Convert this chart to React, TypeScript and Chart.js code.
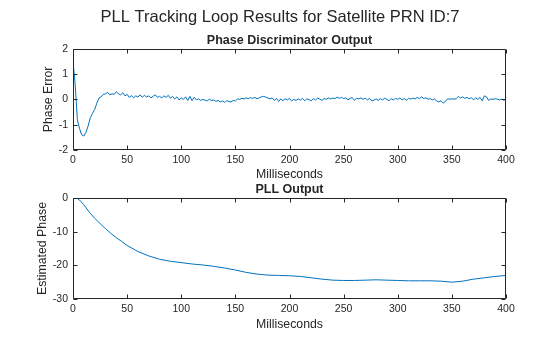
import React, { useEffect, useRef } from "react";
import { Chart, registerables } from "chart.js";

Chart.register(...registerables);

const mainTitle = "PLL Tracking Loop Results for Satellite PRN ID:7";
const topTitle = "Phase Discriminator Output";
const bottomTitle = "PLL Output";
const xLabel = "Milliseconds";
const topYLabel = "Phase Error";
const bottomYLabel = "Estimated Phase";

// Phase discriminator output, sampled every 2 ms from 0 to 400 ms
const phaseError = [
  1.5, 0.6, -0.8, -1.15, -1.4, -1.45, -1.3, -1.05, -0.72, -0.55,
  -0.4, -0.15, 0.05, 0.1, 0.2, 0.22, 0.28, 0.18, 0.22, 0.2,
  0.3, 0.22, 0.18, 0.26, 0.14, 0.2, 0.08, 0.15, 0.06, 0.14,
  0.1, 0.18, 0.08, 0.16, 0.1, 0.14, 0.06, 0.12, 0.18, 0.08,
  0.12, 0.06, 0.14, 0.08, 0.16, 0.05, 0.12, 0.02, 0.1, -0.02,
  0.06, 0.0, 0.1, -0.04, 0.12, -0.05, 0.08, -0.02, 0.02, -0.04,
  0.0, -0.03, -0.06, 0.01, -0.05, -0.02, -0.08, -0.04, -0.1, -0.06,
  -0.12, -0.05, -0.08, -0.1, -0.04, -0.06, 0.02, 0.0, 0.04, 0.02,
  0.06, 0.03, 0.07, 0.04, 0.08, 0.03, 0.06, 0.1, 0.12, 0.09,
  0.06, 0.02, 0.06, -0.04, 0.04, -0.08, 0.02, -0.05, 0.03, -0.02,
  0.04, -0.06, 0.0, -0.04, 0.02, -0.03, 0.04, -0.05, 0.02, 0.0,
  -0.06, 0.03, -0.02, 0.05, 0.01, -0.04, 0.04, 0.0, 0.06, 0.02,
  0.05, 0.03, 0.09, 0.04, 0.08, 0.03, 0.06, -0.02, 0.04, 0.07,
  -0.04, 0.05, 0.02, 0.06, 0.0, 0.05, -0.02, 0.04, -0.06, -0.03,
  0.02, -0.04, 0.03, -0.02, 0.05, 0.0, -0.05, 0.03, -0.02, 0.04,
  0.0, 0.06, -0.02, 0.03, -0.03, 0.04, 0.01, 0.05, 0.02, 0.08,
  0.03, 0.1, 0.04, 0.06, 0.01, 0.03, -0.02, 0.02, -0.06, -0.1,
  -0.05, -0.15, -0.08, 0.02, 0.01, 0.02, 0.01, 0.03, 0.12, 0.05,
  0.1, 0.04, 0.08, 0.02, 0.07, -0.02, 0.06, 0.0, 0.08, -0.06,
  0.14, 0.1, -0.04, 0.02, 0.0, 0.03, 0.01, -0.02, 0.01, -0.03,
  0.0,
];
const phaseErrorStepMs = 2;

// PLL output (estimated phase)
const pllMs = [
  0, 3, 6, 10, 15, 20, 25, 30, 35, 40, 45, 50, 60, 70, 80, 90, 100, 110, 120, 130,
  140, 150, 160, 170, 180, 190, 200, 210, 220, 230, 240, 250, 260, 270, 280, 290,
  300, 310, 320, 330, 340, 350, 360, 370, 380, 390, 400,
];
const pllPhase = [
  0, 0.1, -0.6, -2.0, -4.2, -6.0, -7.6, -9.1, -10.5, -11.8, -12.9, -14.1, -15.9,
  -17.2, -18.2, -18.8, -19.2, -19.6, -19.9, -20.3, -20.8, -21.4, -22.1, -22.6,
  -22.9, -23.0, -23.1, -23.3, -23.7, -24.1, -24.4, -24.5, -24.5, -24.4, -24.3,
  -24.4, -24.5, -24.6, -24.6, -24.6, -24.7, -25.0, -24.7, -24.1, -23.7, -23.3, -23.0,
];

const INK = "#262626";
const LINE = "#0072BD";
const FONT = "'Liberation Sans', Arial, Helvetica, sans-serif";

const boxTicks = {
  id: "boxTicks",
  afterDatasetsDraw(chart: any) {
    const { ctx, chartArea } = chart;
    const l = Math.round(chartArea.left) + 0.5;
    const r = Math.round(chartArea.right) - 0.5;
    const t = Math.round(chartArea.top) + 0.5;
    const b = Math.round(chartArea.bottom) - 0.5;
    ctx.save();
    ctx.strokeStyle = INK;
    ctx.lineWidth = 1;
    ctx.beginPath();
    ctx.rect(l, t, r - l, b - t);
    const len = 4;
    const xs = chart.scales.x;
    xs.ticks.forEach((tk: any) => {
      const px = Math.round(xs.getPixelForValue(tk.value)) + 0.5;
      ctx.moveTo(px, b);
      ctx.lineTo(px, b - len);
      ctx.moveTo(px, t);
      ctx.lineTo(px, t + len);
    });
    const ys = chart.scales.y;
    ys.ticks.forEach((tk: any) => {
      const py = Math.round(ys.getPixelForValue(tk.value)) + 0.5;
      ctx.moveTo(l, py);
      ctx.lineTo(l + len, py);
      ctx.moveTo(r, py);
      ctx.lineTo(r - len, py);
    });
    ctx.stroke();
    ctx.restore();
  },
};

// Axes title centred over the plot area (like MATLAB's subplot title)
const subplotTitle = {
  id: "subplotTitle",
  afterDraw(chart: any, _args: any, opts: any) {
    if (!opts || !opts.text) return;
    const { ctx, chartArea } = chart;
    ctx.save();
    ctx.fillStyle = INK;
    ctx.font = `bold 12.5px ${FONT}`;
    ctx.textAlign = "center";
    ctx.textBaseline = "middle";
    ctx.fillText(opts.text, (chartArea.left + chartArea.right) / 2, chartArea.top - 8);
    ctx.restore();
  },
};

function makeScales(
  ymin: number,
  ymax: number,
  ystep: number,
  yTitle: string,
  yTitlePad: number,
  xHeight: number,
  xTitlePadBottom: number
) {
  return {
    x: {
      type: "linear" as const,
      min: 0,
      max: 400,
      grid: { display: false, drawTicks: false },
      border: { display: false },
      ticks: {
        stepSize: 50,
        padding: 4,
        color: INK,
        maxRotation: 0,
        font: { family: FONT, size: 10.5 },
      },
      title: {
        display: true,
        text: xLabel,
        color: INK,
        font: { family: FONT, size: 12.3 },
        padding: { top: 0, bottom: xTitlePadBottom },
      },
      afterFit: (s: any) => {
        s.height = xHeight;
      },
    },
    y: {
      type: "linear" as const,
      position: "left" as const,
      min: ymin,
      max: ymax,
      grid: { display: false, drawTicks: false },
      border: { display: false },
      ticks: {
        stepSize: ystep,
        padding: 5,
        color: INK,
        font: { family: FONT, size: 10.5 },
      },
      title: {
        display: true,
        text: yTitle,
        color: INK,
        font: { family: FONT, size: 12.3 },
        padding: { top: yTitlePad, bottom: 0 },
      },
      afterFit: (s: any) => {
        s.width = 73;
      },
    },
    yRight: {
      type: "linear" as const,
      position: "right" as const,
      min: ymin,
      max: ymax,
      display: true,
      grid: { display: false, drawTicks: false },
      border: { display: false },
      ticks: { display: false },
      afterFit: (s: any) => {
        s.width = 54;
      },
    },
  };
}

export default function App() {
  const topRef = useRef<HTMLCanvasElement | null>(null);
  const botRef = useRef<HTMLCanvasElement | null>(null);

  useEffect(() => {
    const topData = phaseError.map((v, i) => ({ x: i * phaseErrorStepMs, y: v }));
    const botData = pllMs.map((m, i) => ({ x: m, y: pllPhase[i] }));

    const top = new Chart(topRef.current as HTMLCanvasElement, {
      type: "line",
      data: {
        datasets: [
          {
            data: topData,
            yAxisID: "y",
            borderColor: LINE,
            borderWidth: 1,
            pointRadius: 0,
            tension: 0,
          },
        ],
      },
      options: {
        responsive: false,
        animation: false,
        devicePixelRatio: 1,
        layout: { padding: { left: 0, right: 0, top: 0, bottom: 0 } },
        plugins: {
          legend: { display: false },
          tooltip: { enabled: false },
          title: {
            display: true,
            text: mainTitle,
            color: INK,
            font: { family: FONT, size: 16.5, weight: "normal" },
            padding: { top: 8, bottom: 21 },
          },
          subplotTitle: { text: topTitle },
        } as any,
        scales: makeScales(-2, 2, 1, topYLabel, 41, 35, 2.6),
      },
      plugins: [boxTicks, subplotTitle],
    });

    const bot = new Chart(botRef.current as HTMLCanvasElement, {
      type: "line",
      data: {
        datasets: [
          {
            data: botData,
            yAxisID: "y",
            borderColor: LINE,
            borderWidth: 1,
            pointRadius: 0,
            tension: 0,
          },
        ],
      },
      options: {
        responsive: false,
        animation: false,
        devicePixelRatio: 1,
        layout: { padding: { left: 0, right: 0, top: 23, bottom: 0 } },
        plugins: {
          legend: { display: false },
          tooltip: { enabled: false },
          subplotTitle: { text: bottomTitle },
        } as any,
        scales: makeScales(-30, 0, 10, bottomYLabel, 35, 38, 5),
      },
      plugins: [boxTicks, subplotTitle],
    });

    return () => {
      top.destroy();
      bot.destroy();
    };
  }, []);

  return (
    <div
      style={{
        position: "fixed",
        left: 0,
        top: 0,
        width: 560,
        height: 337,
        background: "#fff",
        overflow: "hidden",
      }}
    >
      <canvas
        ref={topRef}
        width={560}
        height={185}
        style={{ position: "absolute", left: 0, top: 0, width: 560, height: 185 }}
      />
      <canvas
        ref={botRef}
        width={560}
        height={162}
        style={{ position: "absolute", left: 0, top: 175, width: 560, height: 162 }}
      />
    </div>
  );
}
